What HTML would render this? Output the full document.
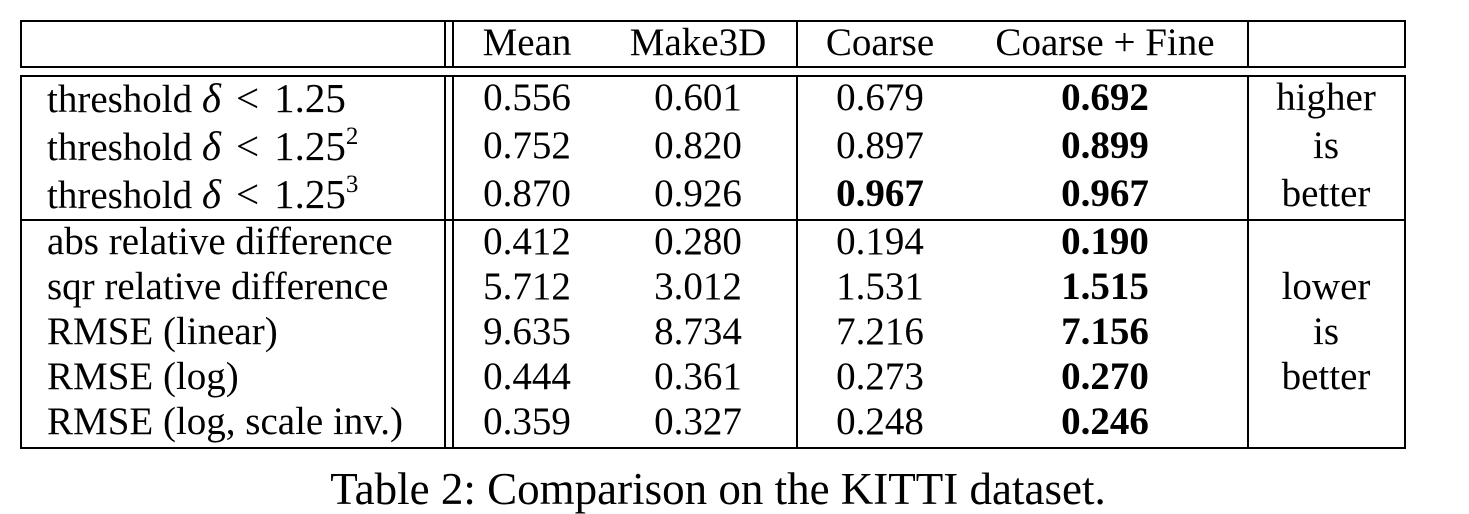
<!DOCTYPE html>
<html><head><meta charset="utf-8"><style>
body{margin:0;width:1469px;height:512px;background:#fff;position:relative;overflow:hidden;font-family:"Liberation Serif",serif;color:#000}
.l{position:absolute;background:#000}
.t{position:absolute;font-size:39px;line-height:1;white-space:nowrap}
.c{transform:translateX(-50%)}
b{font-weight:bold}
sup{font-size:25px;vertical-align:0;position:relative;top:-16px}
i{font-style:italic;font-size:41px}
.m{margin:0 15px}
.n{font-size:41px}
</style></head><body>
<div class="l" style="left:20px;top:20px;width:1386px;height:2px"></div>
<div class="l" style="left:20px;top:66px;width:1386px;height:2px"></div>
<div class="l" style="left:20px;top:75px;width:1386px;height:2px"></div>
<div class="l" style="left:20px;top:219px;width:1386px;height:2px"></div>
<div class="l" style="left:20px;top:447px;width:1386px;height:2px"></div>
<div class="l" style="left:20px;top:20px;width:2px;height:48px"></div>
<div class="l" style="left:20px;top:75px;width:2px;height:374px"></div>
<div class="l" style="left:444px;top:20px;width:2px;height:48px"></div>
<div class="l" style="left:444px;top:75px;width:2px;height:374px"></div>
<div class="l" style="left:452px;top:20px;width:2px;height:48px"></div>
<div class="l" style="left:452px;top:75px;width:2px;height:374px"></div>
<div class="l" style="left:796px;top:20px;width:2px;height:48px"></div>
<div class="l" style="left:796px;top:75px;width:2px;height:374px"></div>
<div class="l" style="left:1247px;top:20px;width:2px;height:48px"></div>
<div class="l" style="left:1247px;top:75px;width:2px;height:374px"></div>
<div class="l" style="left:1404px;top:20px;width:2px;height:48px"></div>
<div class="l" style="left:1404px;top:75px;width:2px;height:374px"></div>

<div class="t c" style="left:527px;top:23px">Mean</div>
<div class="t c" style="left:698px;top:23px">Make3D</div>
<div class="t c" style="left:880px;top:23px">Coarse</div>
<div class="t c" style="left:1105px;top:23px">Coarse + Fine</div>

<div class="t" style="left:47px;top:78px">threshold <i>δ</i><span class="m n">&lt;</span><span class="n">1.25</span></div>
<div class="t" style="left:47px;top:126px">threshold <i>δ</i><span class="m n">&lt;</span><span class="n">1.25</span><sup>2</sup></div>
<div class="t" style="left:47px;top:174px">threshold <i>δ</i><span class="m n">&lt;</span><span class="n">1.25</span><sup>3</sup></div>
<div class="t" style="left:47px;top:222px">abs relative difference</div>
<div class="t" style="left:47px;top:267px">sqr relative difference</div>
<div class="t" style="left:47px;top:312px">RMSE (linear)</div>
<div class="t" style="left:47px;top:357px">RMSE (log)</div>
<div class="t" style="left:47px;top:402px">RMSE (log, scale inv.)</div>

<div class="t c" style="left:527px;top:78px">0.556</div>
<div class="t c" style="left:698px;top:78px">0.601</div>
<div class="t c" style="left:880px;top:78px">0.679</div>
<div class="t c" style="left:1105px;top:78px"><b>0.692</b></div>
<div class="t c" style="left:1326px;top:78px">higher</div>

<div class="t c" style="left:527px;top:126px">0.752</div>
<div class="t c" style="left:698px;top:126px">0.820</div>
<div class="t c" style="left:880px;top:126px">0.897</div>
<div class="t c" style="left:1105px;top:126px"><b>0.899</b></div>
<div class="t c" style="left:1326px;top:126px">is</div>

<div class="t c" style="left:527px;top:174px">0.870</div>
<div class="t c" style="left:698px;top:174px">0.926</div>
<div class="t c" style="left:880px;top:174px"><b>0.967</b></div>
<div class="t c" style="left:1105px;top:174px"><b>0.967</b></div>
<div class="t c" style="left:1326px;top:174px">better</div>

<div class="t c" style="left:527px;top:222px">0.412</div>
<div class="t c" style="left:698px;top:222px">0.280</div>
<div class="t c" style="left:880px;top:222px">0.194</div>
<div class="t c" style="left:1105px;top:222px"><b>0.190</b></div>

<div class="t c" style="left:527px;top:267px">5.712</div>
<div class="t c" style="left:698px;top:267px">3.012</div>
<div class="t c" style="left:880px;top:267px">1.531</div>
<div class="t c" style="left:1105px;top:267px"><b>1.515</b></div>
<div class="t c" style="left:1326px;top:267px">lower</div>

<div class="t c" style="left:527px;top:312px">9.635</div>
<div class="t c" style="left:698px;top:312px">8.734</div>
<div class="t c" style="left:880px;top:312px">7.216</div>
<div class="t c" style="left:1105px;top:312px"><b>7.156</b></div>
<div class="t c" style="left:1326px;top:312px">is</div>

<div class="t c" style="left:527px;top:357px">0.444</div>
<div class="t c" style="left:698px;top:357px">0.361</div>
<div class="t c" style="left:880px;top:357px">0.273</div>
<div class="t c" style="left:1105px;top:357px"><b>0.270</b></div>
<div class="t c" style="left:1326px;top:357px">better</div>

<div class="t c" style="left:527px;top:402px">0.359</div>
<div class="t c" style="left:698px;top:402px">0.327</div>
<div class="t c" style="left:880px;top:402px">0.248</div>
<div class="t c" style="left:1105px;top:402px"><b>0.246</b></div>

<div class="t c" style="left:718px;top:467px;font-size:45px">Table 2: Comparison on the KITTI dataset.</div>
</body></html>
